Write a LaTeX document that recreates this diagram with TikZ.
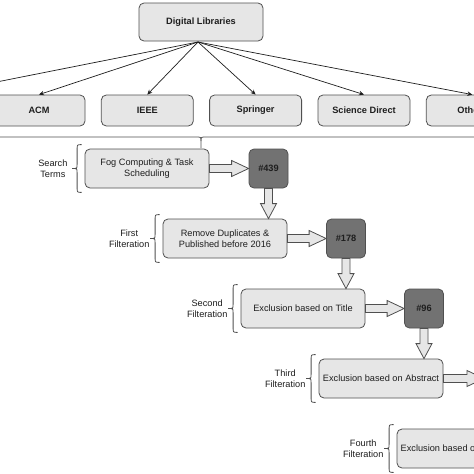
\documentclass[tikz,border=0pt]{standalone}
\usepackage{fontspec}
\setmainfont{Liberation Sans}
\usetikzlibrary{calc,arrows.meta}
\definecolor{boxfill}{HTML}{E6E6E6}
\definecolor{boxline}{HTML}{505050}
\definecolor{numfill}{HTML}{727272}
\definecolor{txt}{HTML}{1E1E1E}
\newcommand\myharrow[2]{\path[blk] let \p1=(#1.east), \p2=(#2) in
  (\x1,\y1+4pt) -- (\x2-17pt,\y1+4pt) -- (\x2-17pt,\y1+8pt) -- (\x2,\y1)
  -- (\x2-17pt,\y1-8pt) -- (\x2-17pt,\y1-4pt) -- (\x1,\y1-4pt) -- cycle;}
\newcommand\myvarrow[2]{\path[blk] let \p1=(#1.south), \p2=(#2.north) in
  (\x1-4pt,\y1) -- (\x1-4pt,\y2+15pt) -- (\x1-8pt,\y2+15pt) -- (\x1,\y2)
  -- (\x1+8pt,\y2+15pt) -- (\x1+4pt,\y2+15pt) -- (\x1+4pt,\y1) -- cycle;}
\newcommand\mybrace[1]{\draw[brc] let \p1=(#1.north west), \p2=(#1.south west), \p3=(#1.west) in
  (\x1-3pt,\y1+4pt) .. controls (\x1-7.5pt,\y1+4pt) .. (\x1-7.5pt,\y1-1pt)
  -- (\x1-7.5pt,\y3+4pt) .. controls (\x1-7.5pt,\y3) .. (\x1-12.5pt,\y3)
  .. controls (\x1-7.5pt,\y3) .. (\x1-7.5pt,\y3-4pt)
  -- (\x1-7.5pt,\y2+1pt) .. controls (\x1-7.5pt,\y2-4pt) .. (\x1-3pt,\y2-4pt);}
\begin{document}
\begin{tikzpicture}[x=1pt,y=-1pt,
  font=\fontsize{9.2}{10.5}\selectfont,
  box/.style={draw=boxline, fill=boxfill, rounded corners=5pt, line width=0.8pt,
    minimum width=124pt, minimum height=39pt, inner sep=0pt, align=center, text=txt},
  lib/.style={box, minimum width=92pt, minimum height=31pt, font=\fontsize{9.2}{10.5}\selectfont\bfseries},
  num/.style={draw=boxline, fill=numfill, rounded corners=5pt, line width=0.8pt,
    minimum width=39pt, minimum height=39pt, inner sep=0pt, text=txt,
    font=\fontsize{9.2}{10.5}\selectfont\bfseries},
  lbl/.style={align=center, anchor=east, inner sep=0pt, text=txt},
  brc/.style={draw=boxline, line width=0.8pt},
  blk/.style={draw=boxline, fill=boxfill, line width=0.8pt, line join=miter},
  con/.style={draw=txt, line width=0.7pt, -{Stealth[length=5pt,width=4.5pt]}}]
\useasboundingbox (0,0) rectangle (474,474);
\clip (0,0) rectangle (474,474);
\fill[white] (0,0) rectangle (474,474);

% top level
\node[box, minimum height=38pt, font=\fontsize{9.2}{10.5}\selectfont\bfseries] (dl) at (201,22) {Digital Libraries};
\node[lib] (acm) at (39,110.5) {ACM};
\node[lib] (ieee) at (147.3,110.5) {IEEE};
\node[lib] (spr) at (255.6,110.5) {Springer};
\node[lib] (sd) at (364,110.5) {Science Direct};
\node[lib] (oth) at (472.3,110.5) {Others};
\coordinate (o) at (198,42);
\coordinate (offl) at (-69,95);
\draw[con] (o) -- (offl);
\draw[con] (o) -- (acm.north);
\draw[con] (o) -- (ieee.north);
\draw[con] (o) -- (spr.north);
\draw[con] (o) -- (sd.north);
\draw[con] (o) -- (oth.north);

% stages
\node[box] (s0) at (147,168.5) {Fog Computing \& Task\\Scheduling};
\node[box] (s1) at (225,238.5) {Remove Duplicates \&\\Published before 2016};
\node[box] (s2) at (303,308.5) {Exclusion based on Title};
\node[box] (s3) at (381,378.5) {Exclusion based on Abstract};
\node[box] (s4) at (459,448.5) {Exclusion based on Full Text};
\node[num] (n0) at (268.5,168.5) {\#439};
\node[num] (n1) at (346,238.5) {\#178};
\node[num] (n2) at (424,308.5) {\#96};
\coordinate (n3w) at (484,378.5);

% big brace under libraries
\draw[brc] (-20,137) -- (196,137) .. controls (201,137) .. (201,141) -- (201,148);
\draw[brc] (500,137) -- (206,137) .. controls (201,137) .. (201,141);

% block arrows
\myharrow{s0}{n0.west}
\myvarrow{n0}{s1}
\myharrow{s1}{n1.west}
\myvarrow{n1}{s2}
\myharrow{s2}{n2.west}
\myvarrow{n2}{s3}
\myharrow{s3}{n3w}

% braces and labels
\mybrace{s0}\mybrace{s1}\mybrace{s2}\mybrace{s3}\mybrace{s4}
\node[lbl] (l0) at ($(s0.west)+(-17,0)$) {Search\\Terms};
\node[lbl] (l1) at ($(s1.west)+(-13,0)$) {First\\Filteration};
\node[lbl] (l2) at ($(s2.west)+(-13,0)$) {Second\\Filteration};
\node[lbl] (l3) at ($(s3.west)+(-13,0)$) {Third\\Filteration};
\node[lbl] (l4) at ($(s4.west)+(-13,0)$) {Fourth\\Filteration};
\end{tikzpicture}
\end{document}
